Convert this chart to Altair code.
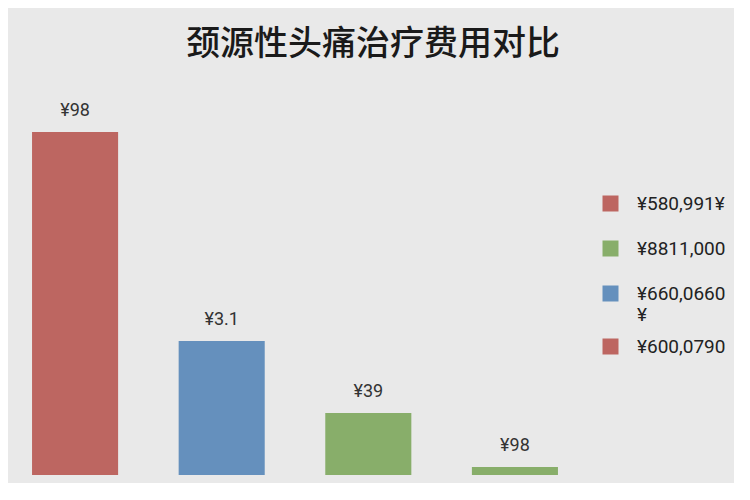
import altair as alt
import pandas as pd

# Data
categories = ["项目1", "项目2", "项目3", "项目4"]
values = [89.1, 34.8, 16.1, 2.1]
value_labels = ["¥98", "¥3.1", "¥39", "¥98"]
bar_colors = ["#bd6661", "#6590bd", "#88ae6a", "#88ae6a"]

legend_labels = ["¥580,991¥", "¥8811,000", "¥660,0660|¥", "¥600,0790"]
legend_colors = ["#bd6661", "#88ae6a", "#6590bd", "#bd6661"]

bars_df = pd.DataFrame({
    "cat": categories,
    "value": values,
    "label": value_labels,
    "color": bar_colors,
})

x_enc = alt.X("cat:N", sort=categories, axis=None,
              scale=alt.Scale(paddingInner=0.413, paddingOuter=0.164))
y_enc = alt.Y("value:Q", axis=None, scale=alt.Scale(domain=[0, 100], nice=False))

bars = alt.Chart(bars_df).mark_bar().encode(
    x=x_enc,
    y=y_enc,
    color=alt.Color("color:N", scale=None),
)

texts = alt.Chart(bars_df).mark_text(
    dy=-21, fontSize=18, color="#333333", font="Roboto"
).encode(
    x=x_enc,
    y=y_enc,
    text="label:N",
)


def legend_part(labels, colors, field, ly):
    df = pd.DataFrame({field: labels})
    return alt.Chart(df).mark_square(opacity=0, size=0).encode(
        color=alt.Color(
            f"{field}:N",
            scale=alt.Scale(domain=labels, range=colors),
            legend=alt.Legend(
                title=None,
                orient="none",
                legendX=593,
                legendY=ly,
                symbolType="square",
                symbolSize=256,
                symbolOpacity=1,
                symbolStrokeWidth=0,
                labelFontSize=19,
                labelFont="Roboto",
                labelColor="#222222",
                labelOffset=17,
                rowPadding=25,
                labelLimit=200,
                labelExpr="split(datum.label, '|')",
            ),
        )
    )


legend_a = legend_part(legend_labels[:3], legend_colors[:3], "itemA", 104)
legend_b = legend_part(legend_labels[3:], legend_colors[3:], "itemB", 247)

chart = alt.layer(bars, texts, legend_a, legend_b).resolve_scale(
    color="independent"
).properties(
    width=574,
    height=385,
    title=alt.Title(
        "颈源性头痛治疗费用对比",
        fontSize=34,
        font="Noto Sans CJK SC",
        fontWeight=500,
        color="#1a1a1a",
        anchor="middle",
        frame="bounds",
        offset=28,
        dx=6,
    ),
    padding={"left": 0, "top": 20, "right": 8, "bottom": 8},
    background="#e9e9e9",
).configure_view(stroke=None)

chart.save("out.html", embed_options={"renderer": "svg", "actions": False})
